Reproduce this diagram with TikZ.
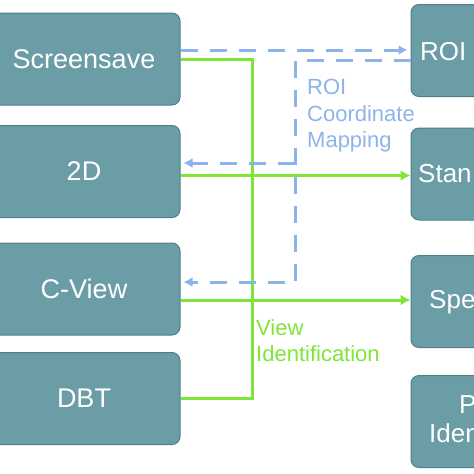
\documentclass[tikz,border=0pt]{standalone}
\usepackage{fontspec}
\setmainfont{Liberation Sans}
\usetikzlibrary{arrows.meta}
\definecolor{boxfill}{HTML}{6A9DA6}
\definecolor{boxedge}{HTML}{4F8089}
\definecolor{viewgreen}{HTML}{7FE536}
\definecolor{roiblue}{HTML}{8DB4EA}
\tikzset{
  blk/.style={draw=boxedge, line width=1pt, fill=boxfill, rounded corners=8pt,
    minimum width=192pt, minimum height=92pt, text=white,
    font=\fontsize{27}{31}\selectfont},
  rblk/.style={blk, minimum width=200pt},
  rtxt/.style={anchor=base west, inner sep=0pt, text=white, font=\fontsize{26}{30}\selectfont},
  grn/.style={draw=viewgreen, line width=3pt},
  blu/.style={draw=roiblue, line width=3pt, dash pattern=on 17pt off 12pt},
  gtip/.style={-{Latex[length=10pt,width=11pt]}},
  btip/.style={-{Latex[length=9pt,width=10pt]}}
}
\begin{document}
\begin{tikzpicture}[x=1pt,y=-1pt]
        \useasboundingbox (0,0) rectangle (474,474);
        \clip (0,0) rectangle (474,474);
        \node[blk] (scr) at (84,59) {Screensave};
        \node[blk] (twod) at (84,171.5) {2D};
        \node[blk] (cview) at (84,289) {C-View};
        \node[blk] (dbt) at (84,398.5) {DBT};
        \node[rblk] (roi) at (511,50.5) {};
        \node[rblk] (stan) at (511,174) {};
        \node[rblk] (spe) at (511,301.5) {};
        \node[rblk] (pid) at (511,421.5) {};
        \node[rtxt] (roit) at (420,60) {ROI};
        \node[rtxt] (stant) at (418,182) {Stan};
        \node[rtxt] (spet) at (429,308) {Spe};
        \node[rtxt] (pidt) at (459,413) {P};
        \node[rtxt] (pidu) at (429,442) {Iden};
        \coordinate (gx) at (252,0);
        \coordinate (bx) at (295,0);
        \draw[grn] (scr.east) -| (gx |- dbt.east) -- (dbt.east);
        \draw[grn,gtip] ([yshift=-4pt]twod.east) -- ([yshift=-4pt]twod.east -| stan.west);
        \draw[grn,gtip] ([yshift=-11pt]cview.east) -- ([yshift=-11pt]cview.east -| spe.west);
        \draw[blu,btip,shorten >=3pt] ([yshift=9pt]scr.east) -- ([yshift=9pt]scr.east -| roi.west);
        \draw[blu,btip,shorten >=3pt] ([yshift=-9.5pt]roi.west) -| (bx |- 0,282) -- (cview.east |- 0,282);
        \draw[blu,btip,shorten >=3pt] (bx |- 0,163) -- (twod.east |- 0,163);
        \node[anchor=north west, inner sep=0pt, align=left, text=roiblue,
          font=\fontsize{22}{26.5}\selectfont] (map) at (307,79) {ROI\\Coordinate\\Mapping};
        \node[anchor=north west, inner sep=0pt, align=left, text=viewgreen,
          font=\fontsize{22}{26.5}\selectfont] (vid) at (256,319) {View\\Identification};
    \end{tikzpicture}
\end{document}
